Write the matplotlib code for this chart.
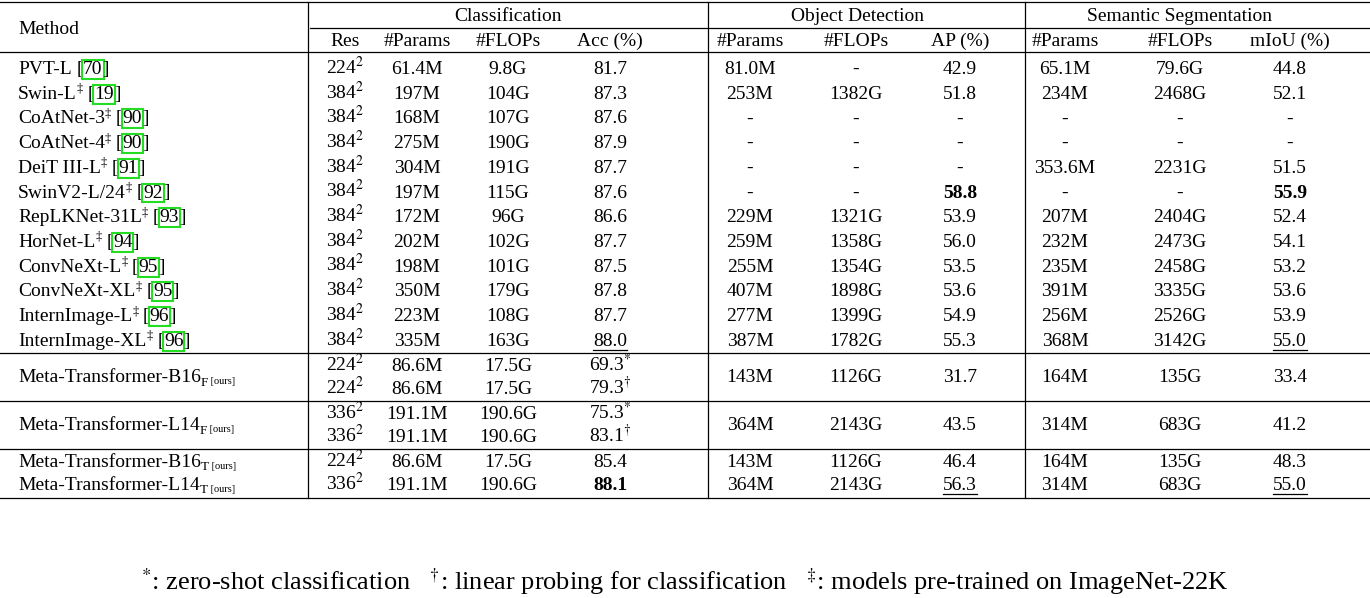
import matplotlib
matplotlib.use('Agg')
import matplotlib.pyplot as plt

plt.rcParams['font.family'] = ['Liberation Serif', 'DejaVu Serif']
plt.rcParams['mathtext.fontset'] = 'stix'

# ── 数据 ──
methods = ['PVT-L', 'Swin-L', 'CoAtNet-3', 'CoAtNet-4', 'DeiT III-L', 'SwinV2-L/24',
           'RepLKNet-31L', 'HorNet-L', 'ConvNeXt-L', 'ConvNeXt-XL', 'InternImage-L', 'InternImage-XL']
cites = ['70', '19', '90', '90', '91', '92', '93', '94', '95', '95', '96', '96']
dagger = [False] + [True] * 11
res = ['224', '384', '384', '384', '384', '384', '384', '384', '384', '384', '384', '384']
cls_params = ['61.4M', '197M', '168M', '275M', '304M', '197M', '172M', '202M', '198M', '350M', '223M', '335M']
cls_flops = ['9.8G', '104G', '107G', '190G', '191G', '115G', '96G', '102G', '101G', '179G', '108G', '163G']
acc = ['81.7', '87.3', '87.6', '87.9', '87.7', '87.6', '86.6', '87.7', '87.5', '87.8', '87.7', '88.0']
od_params = ['81.0M', '253M', '-', '-', '-', '-', '229M', '259M', '255M', '407M', '277M', '387M']
od_flops = ['-', '1382G', '-', '-', '-', '-', '1321G', '1358G', '1354G', '1898G', '1399G', '1782G']
ap = ['42.9', '51.8', '-', '-', '-', '58.8', '53.9', '56.0', '53.5', '53.6', '54.9', '55.3']
ss_params = ['65.1M', '234M', '-', '-', '353.6M', '-', '207M', '232M', '235M', '391M', '256M', '368M']
ss_flops = ['79.6G', '2468G', '-', '-', '2231G', '-', '2404G', '2473G', '2458G', '3335G', '2526G', '3142G']
miou = ['44.8', '52.1', '-', '-', '51.5', '55.9', '52.4', '54.1', '53.2', '53.6', '53.9', '55.0']

meta_names = ['B16', 'L14', 'B16', 'L14']
meta_sub = ['F', 'F', 'T', 'T']
meta_res = [['224', '224'], ['336', '336'], ['224'], ['336']]
meta_cls_params = [['86.6M', '86.6M'], ['191.1M', '191.1M'], ['86.6M'], ['191.1M']]
meta_cls_flops = [['17.5G', '17.5G'], ['190.6G', '190.6G'], ['17.5G'], ['190.6G']]
meta_acc = [['69.3$^{*}$', '79.3$^{\\dagger}$'], ['75.3$^{*}$', '83.1$^{\\dagger}$'], ['85.4'], ['88.1']]
meta_od_params = ['143M', '364M', '143M', '364M']
meta_od_flops = ['1126G', '2143G', '1126G', '2143G']
meta_ap = ['31.7', '43.5', '46.4', '56.3']
meta_ss_params = ['164M', '314M', '164M', '314M']
meta_ss_flops = ['135G', '683G', '135G', '683G']
meta_miou = ['33.4', '41.2', '48.3', '55.0']

bold_cells = {('ap', '58.8'), ('miou', '55.9'), ('acc', '88.1')}
under_cells = {('acc', '88.0'), ('miou', '55.0'), ('ap', '56.3')}

fig = plt.figure(figsize=(13.7, 5.98), dpi=100)
ax = fig.add_axes([0, 0, 1, 1])
ax.set_xlim(0, 1370)
ax.set_ylim(598, 0)
ax.axis('off')
r = fig.canvas.get_renderer()
FS = 14
BL = 6  # 基线相对行中心的偏移

def width(t):
    return t.get_window_extent(renderer=r).width

def cell(x, y, s, key=None, fs=FS):
    w = 'bold' if (key, s) in bold_cells else 'normal'
    t = ax.text(x, y + BL, s, ha='center', va='baseline', fontsize=fs, fontweight=w)
    if (key, s) in under_cells:
        hw = width(t) / 2
        ax.plot([x - hw, x + hw], [y + 10, y + 10], color='black', lw=0.9)
    return t

def pieces(x, y, parts):
    # parts: (text, size, dy, boxed)
    for s, fs, dy, boxed in parts:
        kw = {}
        if boxed:
            kw['bbox'] = dict(boxstyle='square,pad=0.05', fc='none', ec='#22dd22', lw=1.5)
        t = ax.text(x, y + BL + dy, s, ha='left', va='baseline', fontsize=fs, **kw)
        x += width(t)

cols = [345, 417, 508, 610, 750, 856, 960, 1065, 1180, 1290]

# 表头
ax.text(18, 28 + BL, 'Method', ha='left', va='baseline', fontsize=FS)
ax.text(508, 15 + BL, 'Classification', ha='center', va='baseline', fontsize=FS)
ax.text(858, 15 + BL, 'Object Detection', ha='center', va='baseline', fontsize=FS)
ax.text(1180, 15 + BL, 'Semantic Segmentation', ha='center', va='baseline', fontsize=FS)
for x, h in zip(cols, ['Res', '#Params', '#FLOPs', 'Acc (%)', '#Params', '#FLOPs', 'AP (%)',
                       '#Params', '#FLOPs', 'mIoU (%)']):
    ax.text(x, 40 + BL, h, ha='center', va='baseline', fontsize=FS)

# 普通行
for i in range(len(methods)):
    y = 68 + i * 24.7
    parts = [(methods[i], FS, 0, False)]
    if dagger[i]:
        parts.append(('\u2021', 9, -7, False))
    parts += [(' [', FS, 0, False), (cites[i], FS, 0, True), (']', FS, 0, False)]
    pieces(18, y, parts)
    vals = [res[i] + '$^2$', cls_params[i], cls_flops[i], acc[i], od_params[i], od_flops[i],
            ap[i], ss_params[i], ss_flops[i], miou[i]]
    keys = [None, None, None, 'acc', None, None, 'ap', None, None, 'miou']
    for x, v, k in zip(cols, vals, keys):
        cell(x, y, v, k)

# Meta-Transformer 行
blocks = [(365, 388), (413, 436), (461,), (484,)]
for j, ys in enumerate(blocks):
    yc = sum(ys) / len(ys)
    pieces(18, yc, [('Meta-Transformer-' + meta_names[j], FS, 0, False),
                    (meta_sub[j], 9.5, 3, False), (' [ours]', 7.5, 2, False)])
    for k, y in enumerate(ys):
        cell(cols[0], y, meta_res[j][k] + '$^2$')
        cell(cols[1], y, meta_cls_params[j][k])
        cell(cols[2], y, meta_cls_flops[j][k])
        cell(cols[3], y, meta_acc[j][k], 'acc')
    for x, v, key in zip(cols[4:], [meta_od_params[j], meta_od_flops[j], meta_ap[j],
                                    meta_ss_params[j], meta_ss_flops[j], meta_miou[j]],
                         [None, None, 'ap', None, None, 'miou']):
        cell(x, yc, v, key)

# 线条
lw = 0.9
for y in [2, 52, 353, 401, 449, 498]:
    ax.plot([0, 1370], [y, y], color='black', lw=lw)
ax.plot([310, 1370], [28, 28], color='black', lw=lw)
for x in [308, 708, 1025]:
    ax.plot([x, x], [2, 498], color='black', lw=lw)

# 脚注
ax.text(685, 590, '$^{*}$: zero-shot classification   $^{\\dagger}$: linear probing for classification   '
        '$^{\\ddagger}$: models pre-trained on ImageNet-22K',
        ha='center', va='baseline', fontsize=19)

fig.savefig('out.png', dpi=100)
